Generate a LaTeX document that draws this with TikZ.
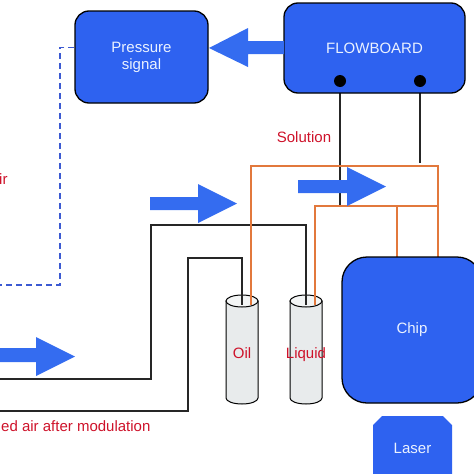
\documentclass[tikz,border=0pt]{standalone}
\usepackage{fontspec}
\setmainfont{Liberation Sans}
\usetikzlibrary{shapes.misc}
\pgfdeclarelayer{background}
\pgfdeclarelayer{foreground}
\pgfsetlayers{background,main,foreground}
\definecolor{boxblue}{RGB}{46,98,240}
\definecolor{arrowblue}{RGB}{52,108,240}
\definecolor{labelred}{RGB}{206,18,42}
\definecolor{tubeorange}{RGB}{226,120,60}
\definecolor{tubegray}{RGB}{232,235,236}
\definecolor{dashblue}{RGB}{60,90,210}
\definecolor{boxtext}{RGB}{235,242,255}
\tikzset{
  bluebox/.style={draw=black, line width=1.3pt, fill=boxblue, text=boxtext, align=center, rounded corners=14pt, font=\fontsize{15}{17}\selectfont},
  redlabel/.style={text=labelred, inner sep=0pt, font=\fontsize{15}{17}\selectfont},
  blackline/.style={draw=black!85, line width=1.2pt},
  orangeline/.style={draw=tubeorange, line width=1.2pt},
  portdot/.style={circle, fill=black, inner sep=0pt, minimum size=12pt}
}

\begin{document}
\begin{tikzpicture}[x=1pt,y=-1pt]
\useasboundingbox (0,0) rectangle (474,474);
\begin{pgfonlayer}{foreground}
\node[bluebox, minimum width=133pt, minimum height=92pt] (press) at (141.5,57) {Pressure\\signal};
\node[bluebox, minimum width=181pt, minimum height=90pt] (flow) at (374.5,48) {FLOWBOARD};
\node[portdot] (dota) at (340,81) {};
\node[portdot] (dotb) at (420,81) {};
\node[bluebox, rounded corners=25pt, minimum width=140pt, minimum height=146pt] (chip) at (412,330) {Chip};
\node[chamfered rectangle, chamfered rectangle corners={north west, north east}, chamfered rectangle xsep=5pt, chamfered rectangle ysep=4pt, fill=boxblue, text=boxtext, minimum width=79pt, minimum height=64pt, font=\fontsize{15}{17}\selectfont] (laser) at (412.5,448) {Laser};
% flow arrows
\fill[arrowblue] (284,41) -- (248,41) -- (248,28) -- (209,48) -- (248,67) -- (248,54) -- (284,54) -- cycle;
\fill[arrowblue] (150,197) -- (198,197) -- (198,184) -- (237,203.5) -- (198,223) -- (198,210) -- (150,210) -- cycle;
\fill[arrowblue] (298,180) -- (347,180) -- (347,167) -- (386,186.5) -- (347,206) -- (347,193) -- (298,193) -- cycle;
\fill[arrowblue] (0,348) -- (36,348) -- (36,337) -- (75,356.5) -- (36,376) -- (36,362) -- (0,362) -- cycle;
\end{pgfonlayer}
\begin{pgfonlayer}{background}
\draw[fill=tubegray, line width=1pt] (226,301) -- (226,398) arc[start angle=180, end angle=360, x radius=16pt, y radius=6pt] -- (258,301) -- cycle;
\draw[fill=white!50!tubegray, line width=1pt] (242,301) ellipse[x radius=16pt, y radius=6pt];
\draw[fill=tubegray, line width=1pt] (290,301) -- (290,398) arc[start angle=180, end angle=360, x radius=16pt, y radius=6pt] -- (322,301) -- cycle;
\draw[fill=white!50!tubegray, line width=1pt] (306,301) ellipse[x radius=16pt, y radius=6pt];
\end{pgfonlayer}
\coordinate (oilin) at (242,305);
\coordinate (oilor) at (251,305);
\coordinate (liqin) at (306,305);
\coordinate (liqor) at (315,305);
\node[redlabel] (oil) at (242,353) {Oil};
\node[redlabel] (liquid) at (306,355) {Liquid};
\node[redlabel] (solution) at (304,137) {Solution};
\node[redlabel, anchor=west] (airin) at (-1,179) {ir};
\node[redlabel, anchor=west] (airout) at (1,426) {ed air after modulation};
% tubing
\draw[blackline] (0,411) -| (188,258) -| (oilin);
\draw[blackline] (0,379) -| (151,225) -| (liqin);
\draw[blackline] (dota) -- (340,207);
\draw[blackline] (dotb) -- (420,163);
\draw[orangeline] (oilor) |- (438,166) -- (438,257);
\draw[orangeline] (liqor) |- (438,206);
\draw[orangeline] (397,206) -- (397,257);
\draw[dashblue, line width=1.1pt, dash pattern=on 6pt off 4pt] (press.172) -| (60,285) -- (0,285);
\end{tikzpicture}
\end{document}
